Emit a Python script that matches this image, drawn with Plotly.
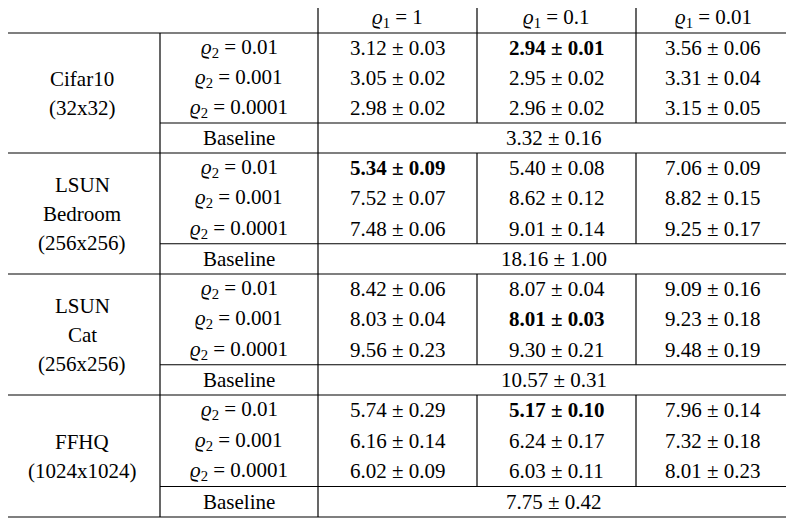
import plotly.graph_objects as go

rho1_labels = ["1", "0.1", "0.01"]
rho2_labels = ["0.01", "0.001", "0.0001"]
datasets = [["Cifar10", "(32x32)"], ["LSUN", "Bedroom", "(256x256)"],
            ["LSUN", "Cat", "(256x256)"], ["FFHQ", "(1024x1024)"]]
means = [
    [[3.12, 2.94, 3.56], [3.05, 2.95, 3.31], [2.98, 2.96, 3.15]],
    [[5.34, 5.40, 7.06], [7.52, 8.62, 8.82], [7.48, 9.01, 9.25]],
    [[8.42, 8.07, 9.09], [8.03, 8.01, 9.23], [9.56, 9.30, 9.48]],
    [[5.74, 5.17, 7.96], [6.16, 6.24, 7.32], [6.02, 6.03, 8.01]],
]
stds = [
    [[0.03, 0.01, 0.06], [0.02, 0.02, 0.04], [0.02, 0.02, 0.05]],
    [[0.09, 0.08, 0.09], [0.07, 0.12, 0.15], [0.06, 0.14, 0.17]],
    [[0.06, 0.04, 0.16], [0.04, 0.03, 0.18], [0.23, 0.21, 0.19]],
    [[0.29, 0.10, 0.14], [0.14, 0.17, 0.18], [0.09, 0.11, 0.23]],
]
bold = [(0, 0, 1), (1, 0, 0), (2, 1, 1), (3, 0, 1)]
base_mean = [3.32, 18.16, 10.57, 7.75]
base_std = [0.16, 1.00, 0.31, 0.42]

W, H = 794, 523
OFF = 8  # page body margin
xl, x1, x2, x3, x4, xr = 4, 160, 318, 477, 636, 790
top, hdr = 3, 33
grp = [33, 153, 274, 395, 517]
col_c = [(x2 + x3) / 2, (x3 + x4) / 2, (x4 + xr) / 2]
font = dict(family="Liberation Serif, Times New Roman, serif", size=21, color="black")

fig = go.Figure()
shapes, ann = [], []
def line(xa, ya, xb, yb):
    shapes.append(dict(type="line", x0=xa, y0=ya, x1=xb, y1=yb, xref="x", yref="y",
                       line=dict(color="black", width=1.2)))
def txt(x, y, t):
    ann.append(dict(x=x, y=y, text=t, xref="x", yref="y", showarrow=False, font=font,
                    xanchor="center", yanchor="middle"))

line(x2, top, xr, top)
line(xl, hdr, xr, hdr)
line(x2, top, x2, grp[-1])
line(x3, top, x3, hdr)
line(x4, top, x4, hdr)
line(xr, top, xr, grp[-1])
line(xl, hdr, xl, grp[-1])
line(x1, hdr, x1, grp[-1])
for j, r in enumerate(rho1_labels):
    txt(col_c[j], (top + hdr) / 2, f"<i>ϱ</i><sub>1</sub> = {r}")

for g in range(4):
    g0, g1 = grp[g], grp[g + 1]
    rh = (g1 - g0) / 4
    line(xl, g1, xr, g1)
    line(x1, g0 + 3 * rh, xr, g0 + 3 * rh)
    line(x3, g0, x3, g0 + 3 * rh)
    line(x4, g0, x4, g0 + 3 * rh)
    n = len(datasets[g])
    for k, name in enumerate(datasets[g]):
        txt((xl + x1) / 2, (g0 + g1) / 2 + (k - (n - 1) / 2) * 29, name)
    for i in range(3):
        y = g0 + rh * (i + 0.5)
        txt((x1 + x2) / 2, y, f"<i>ϱ</i><sub>2</sub> = {rho2_labels[i]}")
        for j in range(3):
            s = f"{means[g][i][j]:.2f} ± {stds[g][i][j]:.2f}"
            if (g, i, j) in bold:
                s = f"<b>{s}</b>"
            txt(col_c[j], y, s)
    yb = g0 + rh * 3.5
    txt((x1 + x2) / 2, yb, "Baseline")
    txt((x2 + xr) / 2, yb, f"{base_mean[g]:.2f} ± {base_std[g]:.2f}")

fig.update_layout(width=W, height=H, margin=dict(l=0, r=0, t=0, b=0),
                  plot_bgcolor="white", paper_bgcolor="white", shapes=shapes,
                  annotations=ann, showlegend=False,
                  xaxis=dict(range=[OFF, W + OFF], visible=False, fixedrange=True),
                  yaxis=dict(range=[H + OFF, OFF], visible=False, fixedrange=True))
fig.write_html("out.html")
